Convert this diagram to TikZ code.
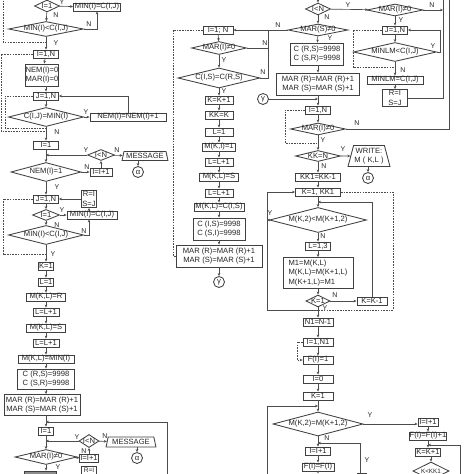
\documentclass[tikz,border=0pt]{standalone}
\usepackage{fontspec}
\setmainfont{Liberation Sans}
\usetikzlibrary{shapes.geometric,arrows.meta}
\tikzset{
 every node/.style={font=\fontsize{7.6}{9.4}\selectfont, text=black!85},
 bx/.style={draw=black!75, line width=0.85pt, rectangle, inner xsep=0.5pt, inner ysep=0.3pt, minimum height=8pt},
 bxt/.style={bx, align=center},
 bxl/.style={bx, align=left},
 dia/.style={draw=black!75, line width=0.85pt, diamond, inner sep=0pt},
 io/.style={draw=black!75, line width=0.85pt, trapezium, trapezium stretches=true, trapezium left angle=72, trapezium right angle=72, inner sep=0pt, align=center},
 con/.style={draw=black!75, line width=0.85pt, circle, inner sep=0pt, minimum size=11pt},
 ln/.style={draw=black!70, line width=0.65pt},
 ar/.style={ln, -{Stealth[length=3pt,width=2.6pt]}},
 dsh/.style={ln, dash pattern=on 1.6pt off 1.1pt},
 lbl/.style={font=\fontsize{7}{7}\selectfont, inner sep=0pt},
 gbx/.style={bx, fill=black!45},
}
\newcommand\dtx[1]{\makebox[0pt]{#1}}
\begin{document}
\begin{tikzpicture}[x=1pt,y=-1pt]
\useasboundingbox (0,0) rectangle (474,474);
\clip (0,0) rectangle (474,474);
\fill[white] (0,0) rectangle (474,474);

% ================= left column =================
\node[dia,minimum width=25pt,minimum height=12pt] (a1) at (47,6) {\dtx{I=1}};
\node[bx,minimum width=47pt] (a2) at (97,7) {MIN(I)=C(I,J)};
\node[dia,minimum width=75pt,minimum height=15pt] (a3) at (46,29) {\dtx{MIN(I)<C(I,J)}};
\node[bx,minimum width=25pt] (a4) at (46,54) {I=1,N};
\node[bxt,minimum width=32pt,minimum height=22pt] (a5) at (42,75) {NEM(I)=0\\MAR(I)=0};
\node[bx,minimum width=25pt] (a6) at (46,96) {J=1,N};
\node[dia,minimum width=75pt,minimum height=19pt] (a7) at (46,117) {\dtx{C(I,J)=MIN(I)}};
\node[bx,minimum width=76pt] (a8) at (128,117) {NEM(I)=NEM(I)+1};
\node[bx,minimum width=25pt] (a9) at (46,145) {I=1};
\node[dia,minimum width=27pt,minimum height=11pt] (a10) at (101,155) {\dtx{I<N}};
\node[io,minimum width=46pt,minimum height=9pt] (a11) at (145,156) {MESSAGE};
\node[con] (a12) at (138,172) {α};
\node[dia,minimum width=70pt,minimum height=19pt] (a13) at (46,172) {\dtx{NEM(I)=1}};
\node[bx,minimum width=22pt] (a14) at (101,172) {I=I+1};
\node[bx,minimum width=25pt] (a15) at (46,199) {J=1,N};
\node[bxt,minimum width=15pt,minimum height=17pt] (a16) at (89,199) {R=I\\S=J};
\node[dia,minimum width=27pt,minimum height=11pt] (a17) at (46,215) {\dtx{I=1}};
\node[bx,minimum width=50pt] (a18) at (92,215) {MIN(I)=C(I,J)};
\node[dia,minimum width=75pt,minimum height=19pt] (a19) at (46,235) {\dtx{MIN(I)<C(I,J)}};
\node[bx,minimum width=15pt] (a20) at (46,266) {K=1};
\node[bx,minimum width=15pt] (a21) at (46,282) {L=1};
\node[bx,minimum width=39pt] (a22) at (46,297) {M(K,L)=R};
\node[bx,minimum width=26pt] (a23) at (46,312) {L=L+1};
\node[bx,minimum width=39pt] (a24) at (46,328) {M(K,L)=S};
\node[bx,minimum width=26pt] (a25) at (46,343) {L=L+1};
\node[bx,minimum width=56pt] (a26) at (46,359) {M(K,L)=MIN(I)};
\node[bxt,minimum width=57pt,minimum height=20pt] (a27) at (46,379) {C (R,S)=9998\\C (S,R)=9998};
\node[bxt,minimum width=76pt,minimum height=21pt] (a28) at (42,405) {MAR (R)=MAR (R)+1\\MAR (S)=MAR (S)+1};
\node[bx,minimum width=15pt] (a29) at (46,431) {I=1};
\node[dia,minimum width=20pt,minimum height=13pt] (a30) at (89,441) {\dtx{I<N}};
\node[io,minimum width=50pt,minimum height=10pt] (a31) at (131,442) {MESSAGE};
\node[con] (a32) at (137,458) {α};
\node[dia,minimum width=62pt,minimum height=15pt] (a33) at (46,457) {\dtx{MAR(I)≠0}};
\node[bx,minimum width=17pt] (a34) at (89,458) {I=I+1};
\node[gbx,minimum width=32pt,minimum height=12pt] (a35) at (40,477) {};
\node[bx,minimum width=15pt,minimum height=9pt,font=\fontsize{6.6}{7}\selectfont] (a36) at (89,470.5) {R=I};

\coordinate (at1) at (3,-2);
\coordinate (aj1) at (46,42);
\coordinate (aj2) at (46,131);
\coordinate (aj3) at (46,128);
\coordinate (aj4) at (46,155);
\coordinate (aj5) at (46,254);
\coordinate (aj6) at (46,422);
\coordinate (aj7) at (46,441);
\coordinate (ab1) at (167,480);

\draw[ar] (a1) -- (a2);
\draw[ar] (a1) -- (a3);
\draw[ar] (a3.east) -| (a2.south);
\draw[ar] (a3) -- (a4);
\draw[ar] (a4) -- (a5);
\draw[ar] (a5.south -| a6) -- (a6);
\draw[ar] (a6) -- (a7);
\draw[ar] (a7) -- (a8);
\draw[ar] (a8.north) |- (a6.east);
\draw[ar] (a7) -- (a9);
\draw[ar] (a9) -- (a13);
\draw[ar] (a10.west) -- (aj4);
\draw[ar] (a10) -- (a11);
\draw[ar] (a11.south -| a12) -- (a12);
\draw[ar] (a13) -- (a14);
\draw[ar] (a14) -- (a10);
\draw[ar] (a13) -- (a15);
\draw[ar] (a15) -- (a17);
\draw[ar] (a17) -- (a18);
\draw[ar] (a17) -- (a19);
\draw[ar] (a19.east) -| (a18.south -| a16);
\draw[ar] (a18.north -| a16) -- (a16);
\draw[ar] (a16) -- (a15);
\draw[ar] (a19) -- (a20);
\draw[ar] (a20) -- (a21);
\draw[ar] (a21) -- (a22);
\draw[ar] (a22) -- (a23);
\draw[ar] (a23) -- (a24);
\draw[ar] (a24) -- (a25);
\draw[ar] (a25) -- (a26);
\draw[ar] (a26) -- (a27);
\draw[ar] (a27.south -| a29) -- (a28.north -| a29);
\draw[ar] (a28.south -| a29) -- (a29);
\draw[ar] (ab1) |- (aj6);
\draw[ar] (a29) -- (a33);
\draw[ar] (a30.west) -- (aj7);
\draw[ar] (a30) -- (a31);
\draw[ar] (a31.south -| a32) -- (a32);
\draw[ar] (a33) -- (a34);
\draw[ar] (a34) -- (a30);
\draw[ar] (a33.south) -- (a33.south |- a35.north);

\draw[dsh] (at1) |- (aj1);
\draw[dsh] (a4.west) -- (1,54) |- (aj2);
\draw[dsh] (a6.west) -- (5,96) |- (aj3);
\draw[dsh] (a15.west) -- (3,199) |- (aj5);

% ================= middle column =================
\node[bx,minimum width=30pt] (b1) at (218,30) {I=1; N};
\node[dia,minimum width=55pt,minimum height=13pt] (b2) at (219,48) {\dtx{MAR(I)≠0}};
\node[dia,minimum width=82pt,minimum height=20pt] (b3) at (219,78) {\dtx{C(I,S)=C(R,S)}};
\node[bx,minimum width=28pt] (b4) at (219,100) {K=K+1};
\node[bx,minimum width=28pt] (b5) at (219,115) {KK=K};
\node[bx,minimum width=28pt] (b6) at (219,132) {L=1};
\node[bx,minimum width=33pt] (b7) at (219,147) {M(K,I)=1};
\node[bx,minimum width=28pt] (b8) at (219,162) {L=L+1};
\node[bx,minimum width=39pt] (b9) at (219,177) {M(K,L)=S};
\node[bx,minimum width=28pt] (b10) at (219,193) {L=L+1};
\node[bx,minimum width=50pt] (b11) at (219,207) {M(K,L)=C(I,S)};
\node[bxt,minimum width=52pt,minimum height=22pt] (b12) at (219,229) {C (I,S)=9998\\C (S,I)=9998};
\node[bxt,minimum width=86pt,minimum height=22pt] (b13) at (219,256) {MAR (R)=MAR (R)+1\\MAR (S)=MAR (S)+1};
\node[con] (b14) at (219,282) {γ};
\coordinate (bm1) at (268,30);

\draw[ar] (b1) -- (b2);
\draw[ar] (b2) -- (b3);
\draw[ln] (b3.east) -| (bm1);
\draw[ln] (b2.east) -- (b2.east -| bm1);
\draw[ar] (b3) -- (b4);
\draw[ar] (b4) -- (b5);
\draw[ar] (b5) -- (b6);
\draw[ar] (b6) -- (b7);
\draw[ar] (b7) -- (b8);
\draw[ar] (b8) -- (b9);
\draw[ar] (b9) -- (b10);
\draw[ar] (b10) -- (b11);
\draw[ar] (b11) -- (b12);
\draw[ar] (b12) -- (b13);
\draw[ar] (b13) -- (b14);
\draw[dsh] (b1.west) -- (173,30) |- (b13.west);

% ================= right column =================
\node[dia,minimum width=25pt,minimum height=12pt] (c1) at (318,9) {\dtx{I<N}};
\node[dia,minimum width=56pt,minimum height=12pt] (c2) at (395,10) {\dtx{MAR(I)≠0}};
\node[dia,minimum width=60pt,minimum height=12pt] (c3) at (318,30) {\dtx{MAR(S)≠0}};
\node[bxt,minimum width=53pt,minimum height=22pt] (c4) at (317,54) {C (R,S)=9998\\C (S,R)=9998};
\node[bxt,minimum width=83pt,minimum height=22pt] (c5) at (318,84) {MAR (R)=MAR (R)+1\\MAR (S)=MAR (S)+1};
\node[con] (c6) at (263,99) {γ};
\node[bx,minimum width=25pt] (c7) at (318,110) {I=1,N};
\node[dia,minimum width=55pt,minimum height=12pt] (c8) at (318,129) {\dtx{MAR(I)≠0}};
\node[dia,minimum width=45pt,minimum height=11pt] (c9) at (318,156) {\dtx{KK=N}};
\node[io,minimum width=42pt,minimum height=21pt] (c10) at (369,156) {WRITE:\\M ( K,L )};
\node[con] (c11) at (368,178) {α};
\node[bx,minimum width=45pt] (c12) at (318,177) {KK1=KK-1};
\node[bx,minimum width=45pt] (c13) at (318,192) {K=1, KK1};
\node[dia,minimum width=97pt,minimum height=25pt] (c14) at (318,220) {\dtx{M(K,2)<M(K+1,2)}};
\node[bx,minimum width=25pt] (c15) at (318,246) {L=1,3};
\node[bxl,minimum width=70pt,minimum height=31pt,inner xsep=2pt] (c16) at (318,273) {M1=M(K,L)\\M(K,L)=M(K+1,L)\\M(K+1,L)=M1};
\node[dia,minimum width=24pt,minimum height=12pt] (c17) at (318,301) {\dtx{K=1}};
\node[bx,minimum width=30pt] (c18) at (372,301) {K=K-1};
\node[bx,minimum width=30pt] (c19) at (318,322) {N1=N-1};
\node[bx,minimum width=30pt] (c20) at (318,342) {I=1,N1};
\node[bx,minimum width=30pt] (c21) at (318,360) {F(I)=1};
\node[bx,minimum width=30pt] (c22) at (318,379) {I=0};
\node[bx,minimum width=30pt] (c23) at (318,396) {K=1};
\node[dia,minimum width=90pt,minimum height=24pt] (c24) at (318,424) {\dtx{M(K,2)=M(K+1,2)}};
\node[bx,minimum width=20pt] (c25) at (428,422) {I=I+1};
\node[bx,minimum width=37pt] (c26) at (428,436) {F(I)=F(I)+1};
\node[bx,minimum width=23pt] (c27) at (428,452) {K=K+1};
\node[dia,minimum width=36pt,minimum height=18pt] (c28) at (431,471) {\dtx{\fontsize{6.3}{7}\selectfont K<KK1}};
\node[bx,minimum width=25pt] (c29) at (318,451) {I=I+1};
\node[bx,minimum width=32pt] (c30) at (318,467) {F(I)=F(I)};
\node[gbx,minimum width=32pt,minimum height=10pt] (c31) at (318,479) {};
\node[gbx,minimum width=9pt,minimum height=8pt] (c32) at (362,477) {};

\node[bx,minimum width=25pt] (d1) at (395,30) {J=1,N};
\node[dia,minimum width=83pt,minimum height=19pt] (d2) at (395,52) {\dtx{MINLM<C(I,J)}};
\node[bx,minimum width=56pt] (d3) at (395,80) {MINLM=C(I,J)};
\node[bxt,minimum width=25pt,minimum height=17pt] (d4) at (395,98) {R=I\\S=J};

\coordinate (ct0) at (318,-2);
\coordinate (rl1) at (440,30);
\coordinate (rl2) at (443,-2);
\coordinate (rl3) at (449,-2);
\coordinate (cj1) at (318,99);
\coordinate (cj2) at (318,143);
\coordinate (cj3) at (318,202);
\coordinate (cj4) at (318,310);
\coordinate (cj5) at (318,406);
\coordinate (cj6) at (318,443);
\coordinate (cj7) at (428,445);
\coordinate (dj1) at (395,67);
\coordinate (fr1) at (267,310);
\coordinate (fr2) at (267,480);
\coordinate (fr3) at (360,480);
\coordinate (fr4) at (460,480);

\draw[ar] (ct0) -- (c1);
\draw[ar] (c1) -- (c2);
\draw[ar] (c1) -- (c3);
\draw[ar] (c3) -- (b1);
\draw[ar] (c2) -- (d1);
\draw[ar] (d1) -- (d2);
\draw[ar] (d2.east) -| (rl1) -- (d1.east);
\draw[ar] (d2) -- (d3);
\draw[ar] (d3) -- (d4);
\draw[ln] (d4.east) -| (rl2);
\draw[ar] (c2.east) -- (c2.east -| rl2);
\draw[dsh] (d1.west) -- (353,30) |- (dj1);

\draw[ar] (c3) -- (c4);
\draw[ar] (c4.south -| c5) -- (c5);
\draw[ar] (c5) -- (c7);
\draw[ar] (c6) -- (cj1);
\draw[ar] (c7) -- (c8);
\draw[ln] (c8.east) -| (rl3);
\draw[dsh] (c7.west) -- (285,110) |- (cj2);
\draw[ar] (c8) -- (c9);
\draw[ar] (c9) -- (c10);
\draw[ar] (c10.south -| c11) -- (c11);
\draw[ar] (c9) -- (c12);
\draw[ar] (c12) -- (c13);
\draw[ar] (c13) -- (c14);
\draw[ar] (c14.west) -- (267,220);
\draw[ar] (fr1) |- (c13.west);
\draw[ln] (fr1) -- (cj4);
\draw[dsh] (c13.east) -- (393,192) |- (cj4);
\draw[ar] (c14) -- (c15);
\draw[ar] (c15) -- (c16);
\draw[ar] (c16) -- (c17);
\draw[ar] (c17) -- (c18);
\draw[ar] (c18.north) |- (cj3);
\draw[ar] (c17) -- (c19);
\draw[ar] (c19) -- (c20);
\draw[dsh,-{Stealth[length=3pt,width=2.6pt]}] (c20.west) -- (297,342) |- (c21.west);
\draw[ar] (c20) -- (c21);
\draw[ar] (c21) -- (c22);
\draw[ar] (c22) -- (c23);
\draw[ar] (c23) -- (c24);
\draw[ar] (fr2) |- (cj5);
\draw[ar] (c24) -- (c25.west |- c24);
\draw[ar] (c25) -- (c26);
\draw[ar] (c26) -- (c27);
\draw[ar] (fr4) |- (cj7);
\draw[ar] (c27.south -| c28) -- (c28);
\draw[ar] (c24) -- (c29);
\draw[ar] (fr3) |- (cj6);
\draw[ar] (c29) -- (c30);
\draw[ar] (c30) -- (c31);

% ================= branch labels =================
\foreach \p/\t [count=\i] in {
 {(62,2)}/Y, {(56,15)}/N, {(89,24)}/N, {(56,43)}/Y,
 {(86,112)}/Y, {(57,132)}/N, {(86,150)}/Y, {(117,150)}/N,
 {(87,167)}/N, {(57,187)}/Y, {(62,210)}/Y, {(57,225)}/N,
 {(84,231)}/N, {(53,254)}/Y, {(77,437)}/Y, {(105,436)}/N,
 {(84,451)}/N, {(58,467)}/Y,
 {(265,43)}/N, {(224,60)}/Y, {(263,72)}/N, {(224,91)}/Y, {(278,25)}/N,
 {(348,5)}/Y, {(327,17)}/N, {(432,5)}/N, {(401,20)}/Y, {(330,38)}/Y,
 {(433,46)}/Y, {(403,70)}/N, {(357,123)}/N, {(323,140)}/Y, {(343,149)}/Y,
 {(324,166)}/N, {(270,213)}/Y, {(323,236)}/N, {(335,295)}/N, {(325,308)}/Y,
 {(370,415)}/Y, {(327,438)}/N, {(367,460)}/Y}
 \node[lbl] (lb\i) at \p {\t};
\end{tikzpicture}
\end{document}
